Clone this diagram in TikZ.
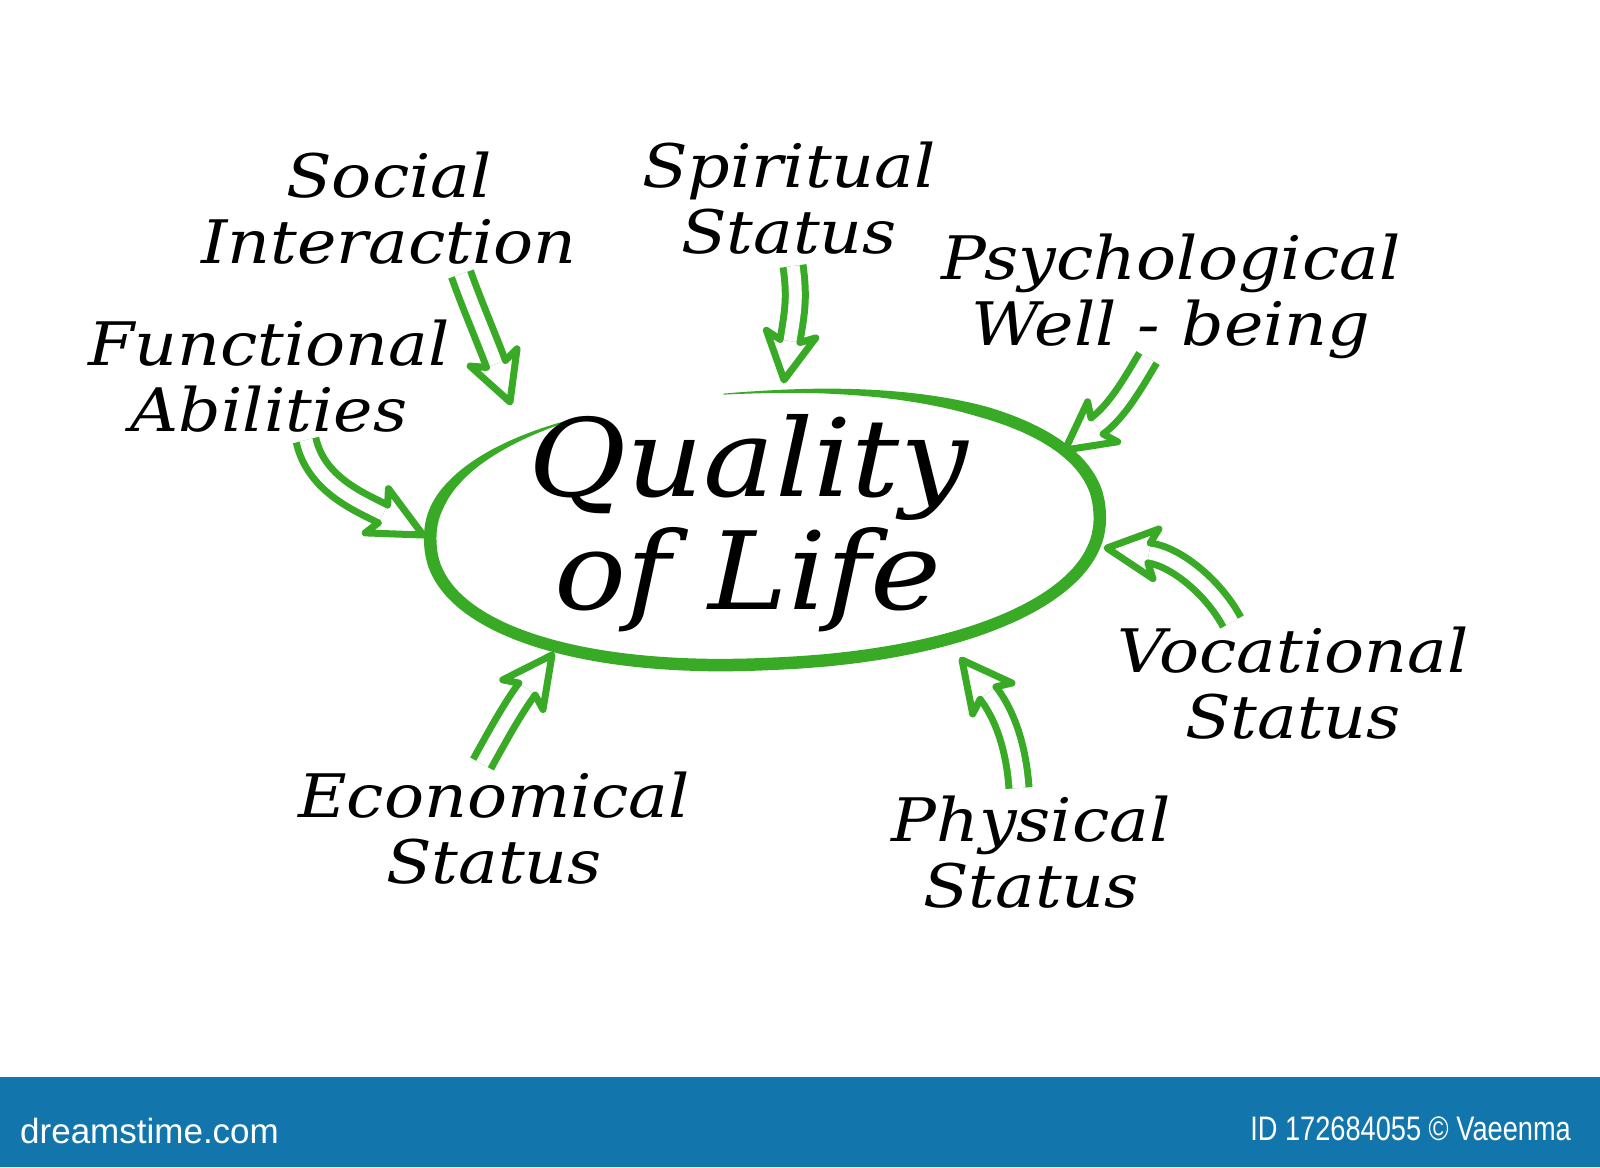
\documentclass[tikz,border=0pt]{standalone}
\usepackage{fontspec}
\setmainfont{DejaVu Serif}
\newfontfamily\lblfont[FakeStretch=1.11]{DejaVu Serif}
\newfontfamily\barfont{Liberation Sans}
\newfontfamily\barnarrow[FakeStretch=0.8]{Liberation Sans}
\usetikzlibrary{calc}
\definecolor{qgreen}{RGB}{56,170,38}
\definecolor{qbar}{RGB}{18,118,172}
\newcommand{\qarrow}[5]{%
  \coordinate (#1-t) at #2;
  \coordinate (#1-c) at #3;
  \coordinate (#1-e) at #4;
  \coordinate (#1-p) at #5;
  \coordinate (#1-c2) at ($(#1-e)!-25pt!(#1-p)$);
  \coordinate (#1-b) at ($(#1-e)!-7pt!(#1-p)$);
  \draw[arrshaft] (#1-t) .. controls (#1-c) and (#1-c2) .. (#1-e);
  \draw[arrhead] ($(#1-e)!10pt!90:(#1-p)$) -- ($(#1-b)!25pt!90:(#1-p)$) -- (#1-p)
     -- ($(#1-b)!25pt!-90:(#1-p)$) -- ($(#1-e)!10pt!-90:(#1-p)$);
}
\begin{document}
\begin{tikzpicture}[x=1pt,y=-1pt,
  declare function={ew(\t)=min(12.5,1+28*sin((\t-121)*0.5389));
    sc(\t)=(cos(\t)<0 ? -1 : 1)*pow(abs(cos(\t))+0.0001,0.92);
    ss(\t)=(sin(\t)<0 ? -1 : 1)*pow(abs(sin(\t))+0.0001,0.92);},
  lbl/.style={align=center,inner sep=0pt,font=\lblfont\fontsize{60}{66}\selectfont\itshape},
  big/.style={align=center,inner sep=0pt,font=\lblfont\fontsize{108}{113}\selectfont\itshape},
  arrshaft/.style={draw=qgreen,double=white,double distance=13pt,line width=7pt,line cap=butt},
  arrhead/.style={draw=qgreen,line width=7pt,line join=round,line cap=round},
  bartext/.style={text=white,inner sep=0pt}]
\useasboundingbox (0,0) rectangle (1600,1167);
\fill[white] (0,0) rectangle (1600,1167);
\fill[qbar] (0,1077) rectangle (1600,1167);
% ellipse
\begin{scope}[rotate around={2.5:(765,528)}]
\fill[qgreen] plot[domain=121:455,samples=180] ({765+(335+ew(\x)/2)*sc(\x)},{528-(136+ew(\x)/2)*ss(\x)})
  -- plot[domain=455:121,samples=180] ({765+(335-ew(\x)/2)*sc(\x)},{528-(136-ew(\x)/2)*ss(\x)}) -- cycle;
\end{scope}
% labels
\node[big] (qol) at (748,523) {Quality\\of Life};
\node[lbl] (social) at (389,208) {Social\\Interaction};
\node[lbl] (spirit) at (789,198) {Spiritual\\Status};
\node[lbl] (psych) at (1171,296) {Psychological\\Well - being};
\node[lbl] (func) at (269,376) {Functional\\Abilities};
\node[lbl] (voc) at (1293,683) {Vocational\\Status};
\node[lbl] (econ) at (494,828) {Economical\\Status};
\node[lbl] (phys) at (1031,852) {Physical\\Status};
% arrows
\qarrow{afunc}{(306,440)}{(316,485)}{(383,514)}{(423,535)}
\qarrow{asoc}{(461,274)}{(472,305)}{(496,364)}{(510,402)}
\qarrow{aspi}{(793,266)}{(798,300)}{(790,341)}{(784,380)}
\qarrow{apsy}{(1148,358)}{(1132,385)}{(1097,426)}{(1065,450)}
\qarrow{avoc}{(1232,622)}{(1212,585)}{(1149,553)}{(1107,548)}
\qarrow{aeco}{(482,764)}{(498,735)}{(527,689)}{(552,655)}
\qarrow{aphy}{(1019,788)}{(1016,745)}{(988,693)}{(962,660)}
% bottom bar
\node[bartext,anchor=west,font=\barfont\fontsize{35}{38}\selectfont] (brand) at (20,1131) {dreamstime.com};
\node[bartext,anchor=east,font=\barnarrow\fontsize{34}{36}\selectfont] (credit) at (1571,1129) {ID 172684055 © Vaeenma};
\end{tikzpicture}
\end{document}
